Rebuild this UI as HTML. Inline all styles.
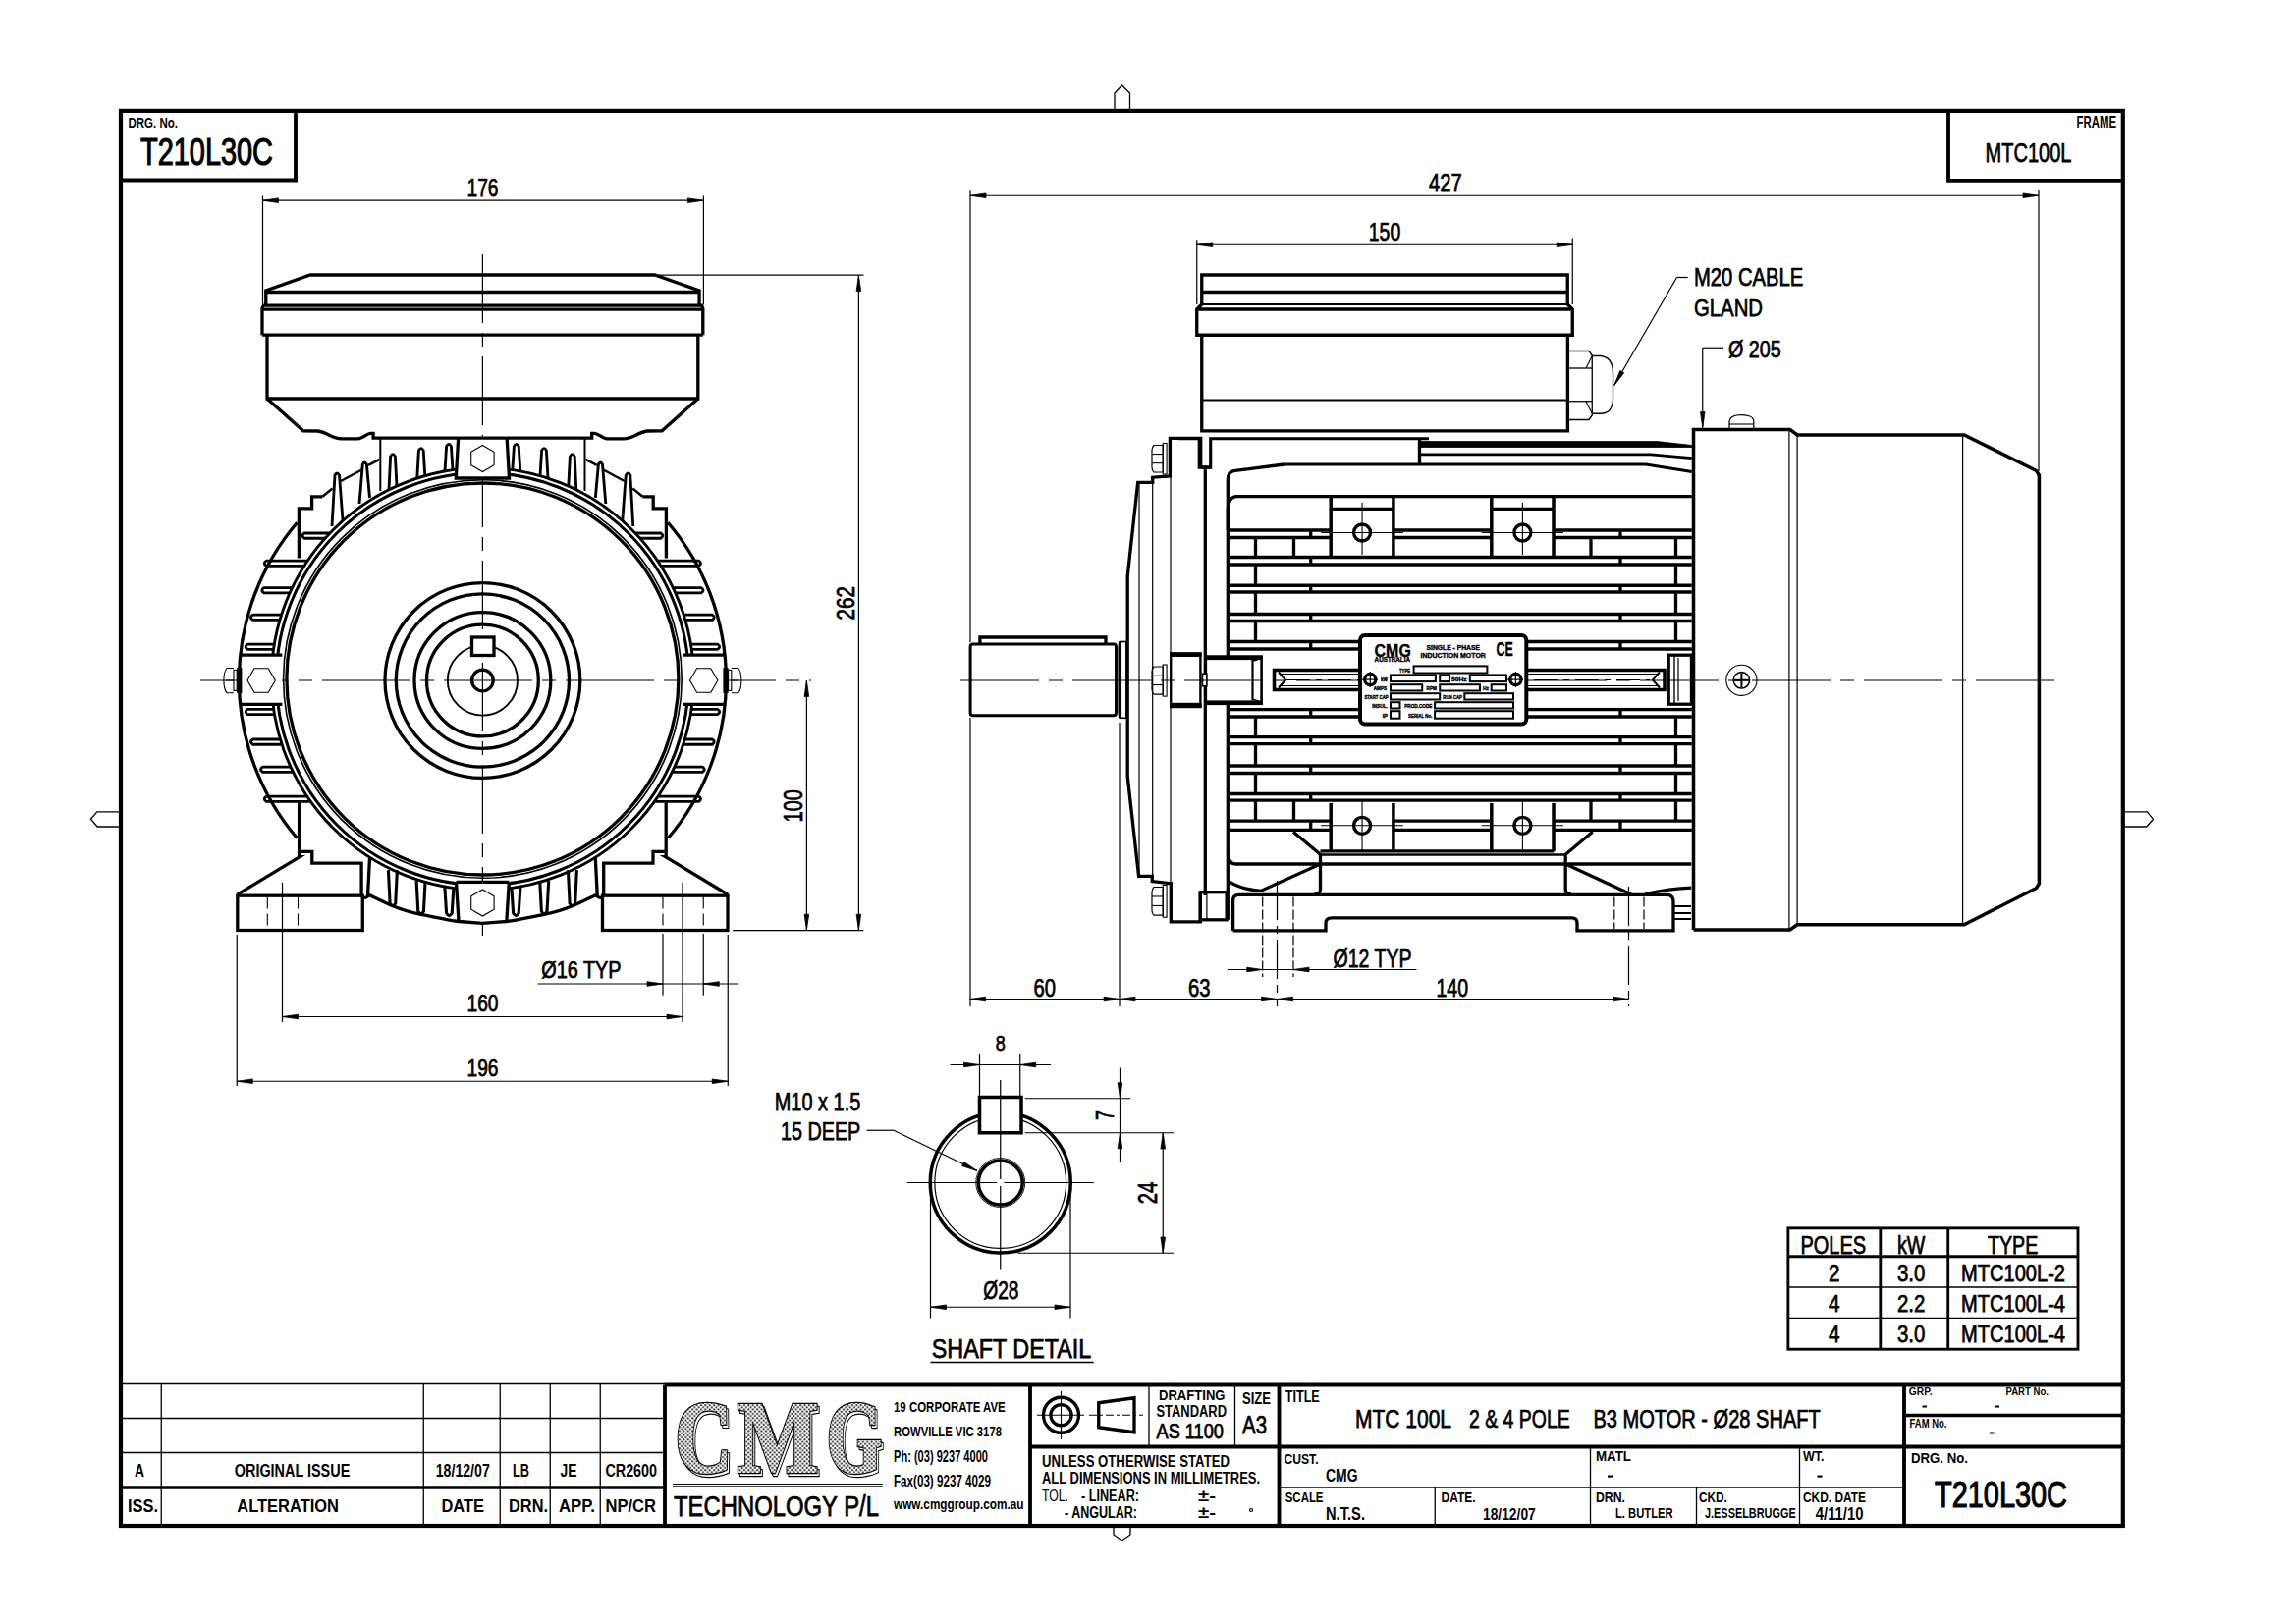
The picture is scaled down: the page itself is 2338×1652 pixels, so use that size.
<!DOCTYPE html>
<html><head><meta charset="utf-8"><style>
html,body{margin:0;padding:0;background:#fff;}
svg{display:block;}
svg text{font-family:"Liberation Sans",sans-serif;}
</style></head><body>
<svg width="2338" height="1652" viewBox="0 0 2338 1652">
<defs><pattern id="dots" x="0" y="0" width="4.4" height="4.4" patternUnits="userSpaceOnUse"><rect width="4.4" height="4.4" fill="#fff"/><circle cx="1.1" cy="1.1" r="1.05" fill="#333"/><circle cx="3.3" cy="3.3" r="1.05" fill="#333"/></pattern><clipPath id="ringclip"><rect x="0" y="0" width="2338" height="667.2"/><rect x="0" y="717.3" width="2338" height="1000"/></clipPath></defs>
<g fill="none" stroke="#000" stroke-linecap="butt" stroke-linejoin="miter">
<g id="frame">
<rect x="123" y="112.9" width="2038.8" height="1441.1" stroke-width="4.18"/>
<path d="M1135 111 L1135 95 L1142.5 87 L1150.5 95 L1150.5 111" stroke-width="1.3"/>
<path d="M1134 1556 L1134 1563 L1142.5 1569 L1151 1563 L1151 1556" stroke-width="1.3"/>
<path d="M121 826.8 L98.8 826.8 L92.4 834.3 L99.2 842 L121 842" stroke-width="1.3"/>
<path d="M2164 826.8 L2186.4 826.8 L2192.5 834.4 L2185.7 842 L2164 842" stroke-width="1.3"/>
<path d="M123 183.5 L301 183.5 L301 112.9" stroke-width="3.85"/>
<text x="130.5" y="130" font-size="15.09" textLength="50.5" lengthAdjust="spacingAndGlyphs" font-weight="bold" fill="#000" stroke="none">DRG. No.</text>
<text x="143" y="168" font-size="38.41" textLength="135" lengthAdjust="spacingAndGlyphs" font-weight="normal" stroke="#000" stroke-width="1.2" fill="#000">T210L30C</text>
<path d="M1984 112.9 L1984 183.8 L2161.8 183.8" stroke-width="3.85"/>
<text x="2114.5" y="130" font-size="16.46" textLength="40.5" lengthAdjust="spacingAndGlyphs" font-weight="bold" fill="#000" stroke="none">FRAME</text>
<text x="2021.5" y="164.5" font-size="26.75" textLength="88" lengthAdjust="spacingAndGlyphs" font-weight="normal" stroke="#000" stroke-width="0.75" fill="#000">MTC100L</text>
</g>
<g id="title">
<line x1="123" y1="1409.5" x2="677" y2="1409.5" stroke-width="1.3"/>
<line x1="123" y1="1444.5" x2="677" y2="1444.5" stroke-width="1.3"/>
<line x1="123" y1="1479.5" x2="677" y2="1479.5" stroke-width="1.3"/>
<line x1="123" y1="1515" x2="677" y2="1515" stroke-width="3.52"/>
<line x1="164.25" y1="1409.5" x2="164.25" y2="1554" stroke-width="1.3"/>
<line x1="431.25" y1="1409.5" x2="431.25" y2="1554" stroke-width="1.3"/>
<line x1="509.25" y1="1409.5" x2="509.25" y2="1554" stroke-width="1.3"/>
<line x1="560.25" y1="1409.5" x2="560.25" y2="1554" stroke-width="1.3"/>
<line x1="611.25" y1="1409.5" x2="611.25" y2="1554" stroke-width="1.3"/>
<line x1="677" y1="1410.5" x2="677" y2="1554" stroke-width="3.85"/>
<line x1="677" y1="1410.5" x2="2161.8" y2="1410.5" stroke-width="3.85"/>
<line x1="1049" y1="1410.5" x2="1049" y2="1554" stroke-width="3.85"/>
<line x1="1049" y1="1473.5" x2="2161.8" y2="1473.5" stroke-width="3.85"/>
<line x1="1170" y1="1410.5" x2="1170" y2="1473.5" stroke-width="1.3"/>
<line x1="1257.5" y1="1410.5" x2="1257.5" y2="1473.5" stroke-width="1.3"/>
<line x1="1302.5" y1="1410.5" x2="1302.5" y2="1554" stroke-width="3.85"/>
<line x1="1939" y1="1410.5" x2="1939" y2="1554" stroke-width="3.85"/>
<line x1="1939" y1="1441.5" x2="2161.8" y2="1441.5" stroke-width="3.63"/>
<line x1="1302.5" y1="1515" x2="1939" y2="1515" stroke-width="1.3"/>
<line x1="1619.5" y1="1473.5" x2="1619.5" y2="1554" stroke-width="1.3"/>
<line x1="1461.25" y1="1515" x2="1461.25" y2="1554" stroke-width="1.3"/>
<line x1="1727.5" y1="1515" x2="1727.5" y2="1554" stroke-width="1.3"/>
<line x1="1832.5" y1="1473.5" x2="1832.5" y2="1554" stroke-width="1.3"/>
<text x="137" y="1504" font-size="19.2" textLength="10" lengthAdjust="spacingAndGlyphs" font-weight="bold" fill="#000" stroke="none">A</text>
<text x="238.75" y="1504" font-size="19.2" textLength="117.5" lengthAdjust="spacingAndGlyphs" font-weight="bold" fill="#000" stroke="none">ORIGINAL ISSUE</text>
<text x="443.75" y="1504" font-size="19.2" textLength="55" lengthAdjust="spacingAndGlyphs" font-weight="bold" fill="#000" stroke="none">18/12/07</text>
<text x="522" y="1504" font-size="19.2" textLength="17" lengthAdjust="spacingAndGlyphs" font-weight="bold" fill="#000" stroke="none">LB</text>
<text x="570.5" y="1504" font-size="19.2" textLength="17" lengthAdjust="spacingAndGlyphs" font-weight="bold" fill="#000" stroke="none">JE</text>
<text x="616.5" y="1504" font-size="19.2" textLength="52.5" lengthAdjust="spacingAndGlyphs" font-weight="bold" fill="#000" stroke="none">CR2600</text>
<text x="130" y="1540" font-size="19.2" textLength="31" lengthAdjust="spacingAndGlyphs" font-weight="bold" fill="#000" stroke="none">ISS.</text>
<text x="241.25" y="1540" font-size="19.2" textLength="103.75" lengthAdjust="spacingAndGlyphs" font-weight="bold" fill="#000" stroke="none">ALTERATION</text>
<text x="449.5" y="1540" font-size="19.2" textLength="43.5" lengthAdjust="spacingAndGlyphs" font-weight="bold" fill="#000" stroke="none">DATE</text>
<text x="518" y="1540" font-size="19.2" textLength="40" lengthAdjust="spacingAndGlyphs" font-weight="bold" fill="#000" stroke="none">DRN.</text>
<text x="569" y="1540" font-size="19.2" textLength="37" lengthAdjust="spacingAndGlyphs" font-weight="bold" fill="#000" stroke="none">APP.</text>
<text x="616.5" y="1540" font-size="19.2" textLength="51.5" lengthAdjust="spacingAndGlyphs" font-weight="bold" fill="#000" stroke="none">NP/CR</text>
<text x="686" y="1543.75" font-size="28.81" textLength="209" lengthAdjust="spacingAndGlyphs" font-weight="normal" stroke="#000" stroke-width="0.75" fill="#000">TECHNOLOGY P/L</text>
<line x1="685" y1="1511.5" x2="898.75" y2="1511.5" stroke-width="1.2"/>
<line x1="685" y1="1513.8" x2="898.75" y2="1513.8" stroke-width="1.2"/>
<text x="910" y="1437.5" font-size="15.09" textLength="113.75" lengthAdjust="spacingAndGlyphs" font-weight="bold" fill="#000" stroke="none">19 CORPORATE AVE</text>
<text x="910" y="1462.5" font-size="15.09" textLength="110" lengthAdjust="spacingAndGlyphs" font-weight="bold" fill="#000" stroke="none">ROWVILLE VIC 3178</text>
<text x="910" y="1489" font-size="16.46" textLength="96" lengthAdjust="spacingAndGlyphs" font-weight="bold" fill="#000" stroke="none">Ph: (03) 9237 4000</text>
<text x="910" y="1514" font-size="16.46" textLength="99" lengthAdjust="spacingAndGlyphs" font-weight="bold" fill="#000" stroke="none">Fax(03) 9237 4029</text>
<text x="910" y="1537" font-size="13.72" textLength="132.5" lengthAdjust="spacingAndGlyphs" font-weight="bold" fill="#000" stroke="none">www.cmggroup.com.au</text>
<text x="689.5" y="1501.5" style="font-family:'Liberation Serif',serif" font-weight="bold" font-size="104" textLength="58" lengthAdjust="spacingAndGlyphs" fill="#000" stroke="#000" stroke-width="4.6">C</text>
<text x="689.5" y="1501.5" style="font-family:'Liberation Serif',serif" font-weight="bold" font-size="104" textLength="58" lengthAdjust="spacingAndGlyphs" fill="#fff" stroke="#fff" stroke-width="2.2">C</text>
<text x="687.5" y="1499" style="font-family:'Liberation Serif',serif" font-weight="bold" font-size="104" textLength="58" lengthAdjust="spacingAndGlyphs" fill="#000" stroke="#000" stroke-width="4.6">C</text>
<text x="687.5" y="1499" style="font-family:'Liberation Serif',serif" font-weight="bold" font-size="104" textLength="58" lengthAdjust="spacingAndGlyphs" fill="url(#dots)" stroke="url(#dots)" stroke-width="2.2">C</text>
<text x="753.2" y="1501.5" style="font-family:'Liberation Serif',serif" font-weight="bold" font-size="104" textLength="82" lengthAdjust="spacingAndGlyphs" fill="#000" stroke="#000" stroke-width="4.6">M</text>
<text x="753.2" y="1501.5" style="font-family:'Liberation Serif',serif" font-weight="bold" font-size="104" textLength="82" lengthAdjust="spacingAndGlyphs" fill="#fff" stroke="#fff" stroke-width="2.2">M</text>
<text x="751.2" y="1499" style="font-family:'Liberation Serif',serif" font-weight="bold" font-size="104" textLength="82" lengthAdjust="spacingAndGlyphs" fill="#000" stroke="#000" stroke-width="4.6">M</text>
<text x="751.2" y="1499" style="font-family:'Liberation Serif',serif" font-weight="bold" font-size="104" textLength="82" lengthAdjust="spacingAndGlyphs" fill="url(#dots)" stroke="url(#dots)" stroke-width="2.2">M</text>
<text x="843.8" y="1501.5" style="font-family:'Liberation Serif',serif" font-weight="bold" font-size="104" textLength="56.3" lengthAdjust="spacingAndGlyphs" fill="#000" stroke="#000" stroke-width="4.6">G</text>
<text x="843.8" y="1501.5" style="font-family:'Liberation Serif',serif" font-weight="bold" font-size="104" textLength="56.3" lengthAdjust="spacingAndGlyphs" fill="#fff" stroke="#fff" stroke-width="2.2">G</text>
<text x="841.8" y="1499" style="font-family:'Liberation Serif',serif" font-weight="bold" font-size="104" textLength="56.3" lengthAdjust="spacingAndGlyphs" fill="#000" stroke="#000" stroke-width="4.6">G</text>
<text x="841.8" y="1499" style="font-family:'Liberation Serif',serif" font-weight="bold" font-size="104" textLength="56.3" lengthAdjust="spacingAndGlyphs" fill="url(#dots)" stroke="url(#dots)" stroke-width="2.2">G</text>
<circle cx="1080.5" cy="1441.25" r="18" stroke-width="3.3"/>
<circle cx="1080.5" cy="1441.25" r="10.6" stroke-width="3.3"/>
<line x1="1056" y1="1441.25" x2="1104" y2="1441.25" stroke-width="1.1"/>
<line x1="1080.5" y1="1417" x2="1080.5" y2="1466" stroke-width="1.1"/>
<path d="M1118.75 1428.75 L1155 1423.75 L1155 1458.75 L1118.75 1453.75 Z" stroke-width="3.3"/>
<line x1="1109" y1="1441.25" x2="1164" y2="1441.25" stroke-width="1.1" stroke-dasharray="8 3 3 3"/>
<text x="1180" y="1426" font-size="15.09" textLength="67.5" lengthAdjust="spacingAndGlyphs" font-weight="bold" fill="#000" stroke="none">DRAFTING</text>
<text x="1177.5" y="1442.5" font-size="15.78" textLength="71.5" lengthAdjust="spacingAndGlyphs" font-weight="bold" fill="#000" stroke="none">STANDARD</text>
<text x="1177.5" y="1465" font-size="21.95" textLength="68.5" lengthAdjust="spacingAndGlyphs" font-weight="normal" stroke="#000" stroke-width="0.75" fill="#000">AS 1100</text>
<text x="1265" y="1430" font-size="16.46" textLength="29" lengthAdjust="spacingAndGlyphs" font-weight="bold" fill="#000" stroke="none">SIZE</text>
<text x="1265" y="1460" font-size="26.06" textLength="25" lengthAdjust="spacingAndGlyphs" font-weight="normal" stroke="#000" stroke-width="0.75" fill="#000">A3</text>
<text x="1061" y="1494" font-size="15.78" textLength="191" lengthAdjust="spacingAndGlyphs" font-weight="bold" fill="#000" stroke="none">UNLESS OTHERWISE STATED</text>
<text x="1061" y="1511" font-size="15.78" textLength="222" lengthAdjust="spacingAndGlyphs" font-weight="bold" fill="#000" stroke="none">ALL DIMENSIONS IN MILLIMETRES.</text>
<text x="1061" y="1529" font-size="15.78" textLength="27" lengthAdjust="spacingAndGlyphs" font-weight="normal" fill="#000" stroke="none">TOL.</text>
<text x="1101" y="1529" font-size="15.78" textLength="59" lengthAdjust="spacingAndGlyphs" font-weight="bold" fill="#000" stroke="none">- LINEAR:</text>
<text x="1084" y="1546" font-size="15.78" textLength="74" lengthAdjust="spacingAndGlyphs" font-weight="bold" fill="#000" stroke="none">- ANGULAR:</text>
<text x="1220" y="1529" font-size="16.46" textLength="18" lengthAdjust="spacingAndGlyphs" font-weight="bold" fill="#000" stroke="none">±-</text>
<text x="1220" y="1546" font-size="16.46" textLength="18" lengthAdjust="spacingAndGlyphs" font-weight="bold" fill="#000" stroke="none">±-</text>
<circle cx="1274" cy="1538" r="1.5" stroke-width="1.2"/>
<text x="1308.75" y="1427.5" font-size="17.15" textLength="35" lengthAdjust="spacingAndGlyphs" font-weight="bold" fill="#000" stroke="none">TITLE</text>
<text x="1380" y="1453.75" font-size="26.06" textLength="98" lengthAdjust="spacingAndGlyphs" font-weight="normal" stroke="#000" stroke-width="0.75" fill="#000">MTC 100L</text>
<text x="1496" y="1453.75" font-size="26.06" textLength="102.75" lengthAdjust="spacingAndGlyphs" font-weight="normal" stroke="#000" stroke-width="0.75" fill="#000">2 &amp; 4 POLE</text>
<text x="1622.5" y="1453.75" font-size="26.06" textLength="231.25" lengthAdjust="spacingAndGlyphs" font-weight="normal" stroke="#000" stroke-width="0.75" fill="#000">B3 MOTOR - Ø28 SHAFT</text>
<text x="1307.5" y="1491" font-size="15.09" textLength="35" lengthAdjust="spacingAndGlyphs" font-weight="bold" fill="#000" stroke="none">CUST.</text>
<text x="1350" y="1509" font-size="17.83" textLength="32.5" lengthAdjust="spacingAndGlyphs" font-weight="bold" fill="#000" stroke="none">CMG</text>
<text x="1308.75" y="1530" font-size="15.09" textLength="38.75" lengthAdjust="spacingAndGlyphs" font-weight="bold" fill="#000" stroke="none">SCALE</text>
<text x="1350" y="1547.5" font-size="18.52" textLength="40" lengthAdjust="spacingAndGlyphs" font-weight="bold" fill="#000" stroke="none">N.T.S.</text>
<text x="1467.5" y="1530" font-size="15.09" textLength="35" lengthAdjust="spacingAndGlyphs" font-weight="bold" fill="#000" stroke="none">DATE.</text>
<text x="1510" y="1547.5" font-size="17.15" textLength="53.75" lengthAdjust="spacingAndGlyphs" font-weight="bold" fill="#000" stroke="none">18/12/07</text>
<text x="1625" y="1487.5" font-size="13.72" textLength="36" lengthAdjust="spacingAndGlyphs" font-weight="bold" fill="#000" stroke="none">MATL</text>
<rect x="1637" y="1502.5" width="5" height="2.2" stroke-width="0" fill="#000"/>
<text x="1836" y="1487.5" font-size="13.72" textLength="21.5" lengthAdjust="spacingAndGlyphs" font-weight="bold" fill="#000" stroke="none">WT.</text>
<rect x="1850.5" y="1502.5" width="5" height="2.2" stroke-width="0" fill="#000"/>
<text x="1625" y="1530" font-size="15.09" textLength="30" lengthAdjust="spacingAndGlyphs" font-weight="bold" fill="#000" stroke="none">DRN.</text>
<text x="1645" y="1546" font-size="15.09" textLength="58.75" lengthAdjust="spacingAndGlyphs" font-weight="bold" fill="#000" stroke="none">L. BUTLER</text>
<text x="1730" y="1530" font-size="15.09" textLength="28.75" lengthAdjust="spacingAndGlyphs" font-weight="bold" fill="#000" stroke="none">CKD.</text>
<text x="1736" y="1546" font-size="15.09" textLength="92.75" lengthAdjust="spacingAndGlyphs" font-weight="bold" fill="#000" stroke="none">J.ESSELBRUGGE</text>
<text x="1836" y="1530" font-size="15.09" textLength="64" lengthAdjust="spacingAndGlyphs" font-weight="bold" fill="#000" stroke="none">CKD. DATE</text>
<text x="1848.75" y="1547.5" font-size="18.52" textLength="48.75" lengthAdjust="spacingAndGlyphs" font-weight="bold" fill="#000" stroke="none">4/11/10</text>
<text x="1943.75" y="1421" font-size="11.66" textLength="23.75" lengthAdjust="spacingAndGlyphs" font-weight="bold" fill="#000" stroke="none">GRP.</text>
<text x="2042.5" y="1421" font-size="11.66" textLength="43.5" lengthAdjust="spacingAndGlyphs" font-weight="bold" fill="#000" stroke="none">PART No.</text>
<rect x="1957.5" y="1431.5" width="4.5" height="2" stroke-width="0" fill="#000"/>
<rect x="2031.5" y="1431.5" width="4.5" height="2" stroke-width="0" fill="#000"/>
<text x="1944.5" y="1454" font-size="12.35" textLength="38" lengthAdjust="spacingAndGlyphs" font-weight="bold" fill="#000" stroke="none">FAM No.</text>
<rect x="2026" y="1458.5" width="4.5" height="2" stroke-width="0" fill="#000"/>
<text x="1946" y="1490" font-size="15.09" textLength="58" lengthAdjust="spacingAndGlyphs" font-weight="bold" fill="#000" stroke="none">DRG. No.</text>
<text x="1970" y="1535" font-size="37.72" textLength="135" lengthAdjust="spacingAndGlyphs" font-weight="normal" stroke="#000" stroke-width="1.2" fill="#000">T210L30C</text>
</g>
<g id="poles">
<rect x="1820.85" y="1250.85" width="295.15" height="123.35" stroke-width="2.86"/>
<line x1="1914.8" y1="1250.85" x2="1914.8" y2="1374.2" stroke-width="2.86"/>
<line x1="1983.7" y1="1250.85" x2="1983.7" y2="1374.2" stroke-width="2.86"/>
<line x1="1820.85" y1="1279.7" x2="2116" y2="1279.7" stroke-width="2.86"/>
<line x1="1820.85" y1="1311" x2="2116" y2="1311" stroke-width="1.3"/>
<line x1="1820.85" y1="1342.4" x2="2116" y2="1342.4" stroke-width="1.3"/>
<text x="1833.4" y="1277.2" font-size="25.38" textLength="66.8" lengthAdjust="spacingAndGlyphs" font-weight="normal" stroke="#000" stroke-width="0.75" fill="#000">POLES</text>
<text x="1932" y="1277.2" font-size="25.38" textLength="28.4" lengthAdjust="spacingAndGlyphs" font-weight="normal" stroke="#000" stroke-width="0.75" fill="#000">kW</text>
<text x="2024" y="1277.2" font-size="25.38" textLength="51.3" lengthAdjust="spacingAndGlyphs" font-weight="normal" stroke="#000" stroke-width="0.75" fill="#000">TYPE</text>
<text x="1862" y="1305" font-size="24.69" textLength="11.5" lengthAdjust="spacingAndGlyphs" font-weight="normal" stroke="#000" stroke-width="0.75" fill="#000">2</text>
<text x="1932" y="1305" font-size="24.69" textLength="28.4" lengthAdjust="spacingAndGlyphs" font-weight="normal" stroke="#000" stroke-width="0.75" fill="#000">3.0</text>
<text x="1997" y="1305" font-size="24.69" textLength="106" lengthAdjust="spacingAndGlyphs" font-weight="normal" stroke="#000" stroke-width="0.75" fill="#000">MTC100L-2</text>
<text x="1862" y="1336" font-size="24.69" textLength="11.5" lengthAdjust="spacingAndGlyphs" font-weight="normal" stroke="#000" stroke-width="0.75" fill="#000">4</text>
<text x="1932" y="1336" font-size="24.69" textLength="28.4" lengthAdjust="spacingAndGlyphs" font-weight="normal" stroke="#000" stroke-width="0.75" fill="#000">2.2</text>
<text x="1997" y="1336" font-size="24.69" textLength="106" lengthAdjust="spacingAndGlyphs" font-weight="normal" stroke="#000" stroke-width="0.75" fill="#000">MTC100L-4</text>
<text x="1862" y="1367" font-size="24.69" textLength="11.5" lengthAdjust="spacingAndGlyphs" font-weight="normal" stroke="#000" stroke-width="0.75" fill="#000">4</text>
<text x="1932" y="1367" font-size="24.69" textLength="28.4" lengthAdjust="spacingAndGlyphs" font-weight="normal" stroke="#000" stroke-width="0.75" fill="#000">3.0</text>
<text x="1997" y="1367" font-size="24.69" textLength="106" lengthAdjust="spacingAndGlyphs" font-weight="normal" stroke="#000" stroke-width="0.75" fill="#000">MTC100L-4</text>
</g>
<g id="dims">
<line x1="267.5" y1="199.5" x2="267.5" y2="310.5" stroke-width="1.2"/>
<line x1="716.4" y1="199.5" x2="716.4" y2="310.5" stroke-width="1.2"/>
<line x1="267.5" y1="204.2" x2="716.4" y2="204.2" stroke-width="1.2"/>
<path d="M267.5 204.2 L283.5 201.9 L283.5 206.5 Z" fill="#000" stroke-width="0.8"/>
<path d="M716.4 204.2 L700.4 206.5 L700.4 201.9 Z" fill="#000" stroke-width="0.8"/>
<text x="475.5" y="200" font-size="26.06" textLength="32" lengthAdjust="spacingAndGlyphs" font-weight="normal" stroke="#000" stroke-width="0.75" fill="#000">176</text>
<line x1="667" y1="280.2" x2="879.4" y2="280.2" stroke-width="1.2"/>
<line x1="746.2" y1="947.7" x2="879.3" y2="947.7" stroke-width="1.2"/>
<line x1="874.4" y1="280.2" x2="874.4" y2="947.7" stroke-width="1.2"/>
<path d="M874.4 280.6 L876.7 296.6 L872.1 296.6 Z" fill="#000" stroke-width="0.8"/>
<path d="M874.4 947.2 L872.1 931.2 L876.7 931.2 Z" fill="#000" stroke-width="0.8"/>
<text transform="translate(869.5 631.5) rotate(-90)" x="0" y="0" font-size="25.38" textLength="34.5" lengthAdjust="spacingAndGlyphs" font-weight="normal" fill="#000" stroke="#000" stroke-width="0.75">262</text>
<line x1="821.4" y1="693.2" x2="821.4" y2="947.7" stroke-width="1.2"/>
<path d="M821.4 693.4 L823.7 709.4 L819.1 709.4 Z" fill="#000" stroke-width="0.8"/>
<path d="M821.4 947.2 L819.1 931.2 L823.7 931.2 Z" fill="#000" stroke-width="0.8"/>
<text transform="translate(816.5 837.4) rotate(-90)" x="0" y="0" font-size="27.16" textLength="33.3" lengthAdjust="spacingAndGlyphs" font-weight="normal" fill="#000" stroke="#000" stroke-width="0.75">100</text>
<line x1="287.5" y1="898.75" x2="287.5" y2="1041" stroke-width="1.2"/>
<line x1="695" y1="898.75" x2="695" y2="1041" stroke-width="1.2"/>
<line x1="287.5" y1="1035.5" x2="695" y2="1035.5" stroke-width="1.2"/>
<path d="M287.5 1035.5 L303.5 1033.2 L303.5 1037.8 Z" fill="#000" stroke-width="0.8"/>
<path d="M695 1035.5 L679 1037.8 L679 1033.2 Z" fill="#000" stroke-width="0.8"/>
<text x="475.5" y="1030" font-size="24.01" textLength="32" lengthAdjust="spacingAndGlyphs" font-weight="normal" stroke="#000" stroke-width="0.75" fill="#000">160</text>
<line x1="241.25" y1="952" x2="241.25" y2="1106" stroke-width="1.2"/>
<line x1="741.25" y1="952" x2="741.25" y2="1106" stroke-width="1.2"/>
<line x1="241.25" y1="1101.25" x2="741.25" y2="1101.25" stroke-width="1.2"/>
<path d="M241.25 1101.25 L257.25 1098.95 L257.25 1103.55 Z" fill="#000" stroke-width="0.8"/>
<path d="M741.25 1101.25 L725.25 1103.55 L725.25 1098.95 Z" fill="#000" stroke-width="0.8"/>
<text x="475.5" y="1096.25" font-size="24.01" textLength="32" lengthAdjust="spacingAndGlyphs" font-weight="normal" stroke="#000" stroke-width="0.75" fill="#000">196</text>
<line x1="675" y1="951" x2="675" y2="1013.75" stroke-width="1.2"/>
<line x1="716.25" y1="951" x2="716.25" y2="1013.75" stroke-width="1.2"/>
<line x1="547.5" y1="1002" x2="751.25" y2="1002" stroke-width="1.2"/>
<path d="M675 1002 L659 1004.3 L659 999.7 Z" fill="#000" stroke-width="0.8"/>
<path d="M716.25 1002 L732.25 999.7 L732.25 1004.3 Z" fill="#000" stroke-width="0.8"/>
<text x="551.25" y="996.25" font-size="24.01" textLength="81.25" lengthAdjust="spacingAndGlyphs" font-weight="normal" stroke="#000" stroke-width="0.75" fill="#000">Ø16 TYP</text>
<line x1="988" y1="194.25" x2="988" y2="654" stroke-width="1.2"/>
<line x1="988" y1="731" x2="988" y2="1025" stroke-width="1.2"/>
<line x1="2076" y1="194" x2="2076" y2="480" stroke-width="1.2"/>
<line x1="988" y1="199.25" x2="2076" y2="199.25" stroke-width="1.2"/>
<path d="M988 199.25 L1004 196.95 L1004 201.55 Z" fill="#000" stroke-width="0.8"/>
<path d="M2076 199.25 L2060 201.55 L2060 196.95 Z" fill="#000" stroke-width="0.8"/>
<text x="1455" y="195" font-size="25.72" textLength="33.75" lengthAdjust="spacingAndGlyphs" font-weight="normal" stroke="#000" stroke-width="0.75" fill="#000">427</text>
<line x1="1218.75" y1="244.25" x2="1218.75" y2="310" stroke-width="1.2"/>
<line x1="1601.25" y1="242.5" x2="1601.25" y2="310" stroke-width="1.2"/>
<line x1="1218.75" y1="249.25" x2="1601.25" y2="249.25" stroke-width="1.2"/>
<path d="M1218.75 249.25 L1234.75 246.95 L1234.75 251.55 Z" fill="#000" stroke-width="0.8"/>
<path d="M1601.25 249.25 L1585.25 251.55 L1585.25 246.95 Z" fill="#000" stroke-width="0.8"/>
<text x="1393.75" y="245" font-size="25.72" textLength="32.5" lengthAdjust="spacingAndGlyphs" font-weight="normal" stroke="#000" stroke-width="0.75" fill="#000">150</text>
<line x1="1718.75" y1="282.5" x2="1707.5" y2="282.5" stroke-width="1.2"/>
<line x1="1707.5" y1="282.5" x2="1643.75" y2="392.5" stroke-width="1.2"/>
<path d="M1643.75 392.5 L1649.78 377.5 L1653.76 379.81 Z" fill="#000" stroke-width="0.8"/>
<text x="1725" y="291.25" font-size="25.72" textLength="111.25" lengthAdjust="spacingAndGlyphs" font-weight="normal" stroke="#000" stroke-width="0.75" fill="#000">M20 CABLE</text>
<text x="1725" y="321.75" font-size="24.69" textLength="70" lengthAdjust="spacingAndGlyphs" font-weight="normal" stroke="#000" stroke-width="0.75" fill="#000">GLAND</text>
<line x1="1755" y1="354.25" x2="1733.75" y2="354.25" stroke-width="1.2"/>
<line x1="1733.75" y1="354.25" x2="1733.75" y2="435" stroke-width="1.2"/>
<path d="M1733.75 435.5 L1731.45 419.5 L1736.05 419.5 Z" fill="#000" stroke-width="0.8"/>
<text x="1760" y="364.25" font-size="24.69" textLength="53.75" lengthAdjust="spacingAndGlyphs" font-weight="normal" stroke="#000" stroke-width="0.75" fill="#000">Ø 205</text>
<line x1="1140" y1="735.9" x2="1140" y2="1025" stroke-width="1.2"/>
<line x1="1300.5" y1="897" x2="1300.5" y2="1025" stroke-width="1.2" stroke-dasharray="40 6 8 6"/>
<line x1="1658.5" y1="903" x2="1658.5" y2="1025" stroke-width="1.2" stroke-dasharray="40 6 8 6"/>
<line x1="987.5" y1="1017.5" x2="1658.5" y2="1017.5" stroke-width="1.2"/>
<path d="M987.5 1017.5 L1003.5 1015.2 L1003.5 1019.8 Z" fill="#000" stroke-width="0.8"/>
<path d="M1140 1017.5 L1124 1019.8 L1124 1015.2 Z" fill="#000" stroke-width="0.8"/>
<path d="M1140 1017.5 L1156 1015.2 L1156 1019.8 Z" fill="#000" stroke-width="0.8"/>
<path d="M1300.5 1017.5 L1284.5 1019.8 L1284.5 1015.2 Z" fill="#000" stroke-width="0.8"/>
<path d="M1300.5 1017.5 L1316.5 1015.2 L1316.5 1019.8 Z" fill="#000" stroke-width="0.8"/>
<path d="M1658.5 1017.5 L1642.5 1019.8 L1642.5 1015.2 Z" fill="#000" stroke-width="0.8"/>
<text x="1052.5" y="1015" font-size="26.06" textLength="22.5" lengthAdjust="spacingAndGlyphs" font-weight="normal" stroke="#000" stroke-width="0.75" fill="#000">60</text>
<text x="1210" y="1015" font-size="26.06" textLength="22.5" lengthAdjust="spacingAndGlyphs" font-weight="normal" stroke="#000" stroke-width="0.75" fill="#000">63</text>
<text x="1462.5" y="1015" font-size="26.06" textLength="32.5" lengthAdjust="spacingAndGlyphs" font-weight="normal" stroke="#000" stroke-width="0.75" fill="#000">140</text>
<line x1="1250" y1="987.5" x2="1442.5" y2="987.5" stroke-width="1.2"/>
<path d="M1285.7 987.5 L1269.7 989.8 L1269.7 985.2 Z" fill="#000" stroke-width="0.8"/>
<path d="M1317 987.5 L1333 985.2 L1333 989.8 Z" fill="#000" stroke-width="0.8"/>
<line x1="1285.7" y1="913.5" x2="1285.7" y2="995" stroke-width="1.2" stroke-dasharray="10 3"/>
<line x1="1317" y1="913.5" x2="1317" y2="995" stroke-width="1.2" stroke-dasharray="10 3"/>
<line x1="1643.8" y1="913.5" x2="1643.8" y2="946" stroke-width="1.2" stroke-dasharray="10 3"/>
<line x1="1674" y1="913.5" x2="1674" y2="946" stroke-width="1.2" stroke-dasharray="10 3"/>
<text x="1357.5" y="985" font-size="26.06" textLength="80" lengthAdjust="spacingAndGlyphs" font-weight="normal" stroke="#000" stroke-width="0.75" fill="#000">Ø12 TYP</text>
</g>
<g id="shaft">
<circle cx="1018.75" cy="1204.5" r="71.5" stroke-width="3.52"/>
<circle cx="1018.75" cy="1204.5" r="66.9" stroke-width="1.2"/>
<rect x="997.5" y="1117.5" width="42.5" height="36.25" fill="#fff" stroke="none"/>
<rect x="997.5" y="1117.5" width="42.5" height="36.25" stroke-width="3.52"/>
<circle cx="1018.75" cy="1204.5" r="22.5" stroke-width="3.52"/>
<circle cx="1018.75" cy="1204.5" r="25" stroke-width="0.9"/>
<line x1="1018.75" y1="1100" x2="1018.75" y2="1201" stroke-width="1.2"/>
<line x1="1018.75" y1="1208" x2="1018.75" y2="1292.5" stroke-width="1.2"/>
<line x1="923.75" y1="1204.5" x2="1015" y2="1204.5" stroke-width="1.2"/>
<line x1="1022.5" y1="1204.5" x2="1113.75" y2="1204.5" stroke-width="1.2"/>
<line x1="997.5" y1="1073.75" x2="997.5" y2="1117" stroke-width="1.2"/>
<line x1="1038.75" y1="1073.75" x2="1038.75" y2="1117" stroke-width="1.2"/>
<line x1="967.5" y1="1084.5" x2="1070" y2="1084.5" stroke-width="1.2"/>
<path d="M997.5 1084.5 L981.5 1086.8 L981.5 1082.2 Z" fill="#000" stroke-width="0.8"/>
<path d="M1038.75 1084.5 L1054.75 1082.2 L1054.75 1086.8 Z" fill="#000" stroke-width="0.8"/>
<text x="1013.75" y="1070" font-size="21.95" textLength="10" lengthAdjust="spacingAndGlyphs" font-weight="normal" stroke="#000" stroke-width="0.75" fill="#000">8</text>
<line x1="1043.75" y1="1118.75" x2="1151.25" y2="1118.75" stroke-width="1.2"/>
<line x1="1043.75" y1="1153.75" x2="1195" y2="1153.75" stroke-width="1.2"/>
<line x1="1140.5" y1="1087.5" x2="1140.5" y2="1183.75" stroke-width="1.2"/>
<path d="M1140.5 1118.75 L1138.2 1102.75 L1142.8 1102.75 Z" fill="#000" stroke-width="0.8"/>
<path d="M1140.5 1153.75 L1142.8 1169.75 L1138.2 1169.75 Z" fill="#000" stroke-width="0.8"/>
<text transform="translate(1133.75 1141) rotate(-90)" x="0" y="0" font-size="26.06" textLength="10" lengthAdjust="spacingAndGlyphs" font-weight="normal" fill="#000" stroke="#000" stroke-width="0.75">7</text>
<line x1="1036.25" y1="1276.25" x2="1195" y2="1276.25" stroke-width="1.2"/>
<line x1="1184.25" y1="1153.75" x2="1184.25" y2="1276.25" stroke-width="1.2"/>
<path d="M1184.25 1154 L1186.55 1170 L1181.95 1170 Z" fill="#000" stroke-width="0.8"/>
<path d="M1184.25 1276 L1181.95 1260 L1186.55 1260 Z" fill="#000" stroke-width="0.8"/>
<text transform="translate(1177.5 1226.25) rotate(-90)" x="0" y="0" font-size="26.75" textLength="22.5" lengthAdjust="spacingAndGlyphs" font-weight="normal" fill="#000" stroke="#000" stroke-width="0.75">24</text>
<line x1="947.5" y1="1215" x2="947.5" y2="1342.5" stroke-width="1.2"/>
<line x1="1090" y1="1215" x2="1090" y2="1342.5" stroke-width="1.2"/>
<line x1="947.5" y1="1331.25" x2="1090" y2="1331.25" stroke-width="1.2"/>
<path d="M947.5 1331.25 L963.5 1328.95 L963.5 1333.55 Z" fill="#000" stroke-width="0.8"/>
<path d="M1090 1331.25 L1074 1333.55 L1074 1328.95 Z" fill="#000" stroke-width="0.8"/>
<text x="1001.25" y="1322.5" font-size="25.72" textLength="36.25" lengthAdjust="spacingAndGlyphs" font-weight="normal" stroke="#000" stroke-width="0.75" fill="#000">Ø28</text>
<text x="788.75" y="1131.25" font-size="25.72" textLength="87.5" lengthAdjust="spacingAndGlyphs" font-weight="normal" stroke="#000" stroke-width="0.75" fill="#000">M10 x 1.5</text>
<text x="795" y="1161.25" font-size="25.72" textLength="81.25" lengthAdjust="spacingAndGlyphs" font-weight="normal" stroke="#000" stroke-width="0.75" fill="#000">15 DEEP</text>
<line x1="882.5" y1="1151.25" x2="910" y2="1151.25" stroke-width="1.2"/>
<line x1="910" y1="1151.25" x2="995" y2="1192.5" stroke-width="1.2"/>
<path d="M995 1192.5 L979.6 1187.58 L981.61 1183.45 Z" fill="#000" stroke-width="0.8"/>
<text x="948.75" y="1382.5" font-size="27.43" textLength="162.5" lengthAdjust="spacingAndGlyphs" font-weight="normal" stroke="#000" stroke-width="0.75" fill="#000">SHAFT DETAIL</text>
<line x1="947.5" y1="1387.5" x2="1113.75" y2="1387.5" stroke-width="1.3"/>
</g>
<g id="front">
<line x1="204" y1="693" x2="826" y2="693" stroke-width="1.2" stroke-dasharray="90 10 14 10"/>
<line x1="491.4" y1="259" x2="491.4" y2="956" stroke-width="1.2" stroke-dasharray="70 10 14 10"/>
<circle cx="491.4" cy="693" r="99.4" stroke-width="3.3"/>
<circle cx="491.4" cy="693" r="88.1" stroke-width="3.3"/>
<circle cx="491.4" cy="693" r="69.4" stroke-width="3.3"/>
<circle cx="491.4" cy="693" r="56.9" stroke-width="3.3"/>
<circle cx="491.4" cy="693" r="35.6" stroke-width="1.9"/>
<rect x="480.5" y="649" width="22.5" height="18.5" fill="#fff" stroke="none"/>
<rect x="480.5" y="649" width="22.5" height="18.5" stroke-width="3.3"/>
<circle cx="491.4" cy="693" r="10.8" stroke-width="3.3"/>
<circle cx="491.4" cy="691.5" r="215" stroke-width="2.86"/>
<circle cx="491.4" cy="691.5" r="210" stroke-width="3.08"/>
<path d="M466.6 447 L516.2 447 L518.5 487 L464.3 487 Z M464.5 898 L518.3 898 L515.8 939 L467 939 Z M244 667.2 L287 667.2 L287 717.3 L244 717.3 Z M695.8 667.2 L738.8 667.2 L738.8 717.3 L695.8 717.3 Z" fill="#fff" stroke="none"/>
<circle cx="491.4" cy="691.5" r="202.8" stroke-width="1.6"/>
<circle cx="491.4" cy="691.5" r="199.5" stroke-width="3.3"/>
<g id="fhalf">
<path d="M491.4 280 L316 280 L270.75 296 L270.75 311" stroke-width="3.3"/>
<line x1="270.75" y1="297.5" x2="491.4" y2="297.5" stroke-width="3.52"/>
<line x1="267" y1="311.2" x2="491.4" y2="311.2" stroke-width="3.3"/>
<line x1="267" y1="315.2" x2="491.4" y2="315.2" stroke-width="3.3"/>
<path d="M268 311.5 L267 314 L267 341.2" stroke-width="3.3"/>
<line x1="267" y1="341.2" x2="491.4" y2="341.2" stroke-width="3.3"/>
<path d="M272 341.2 L272 406 L491.4 406" stroke-width="3.3"/>
<path d="M272 406 L308.75 438.75 L323.6 439 C333 440 338 446.8 347.7 446.8 L364.5 446.8 C370 446.8 373 441.4 377.7 441.4 L380.1 441.4 L380.1 446.2 L491.4 446.2" stroke-width="3.3"/>
<line x1="387.3" y1="446.8" x2="387.3" y2="500" stroke-width="2"/>
<path d="M466.6 447 L464.3 487 L491.4 487" stroke-width="3.3"/>
<path d="M396 498.82 L397.6 464.9 Q400 460.4 402.4 464.9 L404 495.07" stroke-width="2.86"/>
<path d="M424.8 487.08 L426.4 458.9 Q428.8 454.4 431.2 458.9 L432.8 484.64" stroke-width="2.86"/>
<path d="M453 479.96 L454.6 454.6 Q457 450.1 459.4 454.6 L461 478.66" stroke-width="2.86"/>
<path d="M338 536 L341 484 Q343 480 345.5 484 L349 530" stroke-width="2.86"/>
<path d="M366 513 L369.3 473 Q371.1 469 373.4 473 L376.5 507" stroke-width="2.86"/>
<line x1="347" y1="490" x2="369.3" y2="478" stroke-width="2.4"/>
<line x1="375" y1="473.9" x2="386.5" y2="467.9" stroke-width="2.4"/>
<path d="M328.4 505.8 L338.5 497.5" stroke-width="2.4"/>
<path d="M304.4 568.5 L304.4 517.8 L317.6 517.8 L317.6 505.8 L328.4 505.8" stroke-width="3.3"/>
<path d="M302.59 532.2 A248 248 0 0 0 302.34 853.5" stroke-width="3.3"/>
<path d="M335.92 543 L310 543 Q306 545.6 310 548.2 L331.12 548.2" stroke-width="2.86"/>
<path d="M313.24 571.15 L271.25 571.15 Q267.25 573.75 271.25 576.35 L309.84 576.35" stroke-width="2.86"/>
<path d="M297.48 598.65 L268.75 598.65 Q264.75 601.25 268.75 603.85 L295.08 603.85" stroke-width="2.86"/>
<path d="M286.57 626.15 L257.5 626.15 Q253.5 628.75 257.5 631.35 L284.99 631.35" stroke-width="2.86"/>
<path d="M279.33 656.15 L252.1 656.15 Q248.1 658.75 252.1 661.35 L278.52 661.35" stroke-width="2.86"/>
<path d="M278.63 722.4 L252.1 722.4 Q248.1 725 252.1 727.6 L279.45 727.6" stroke-width="2.86"/>
<path d="M285.38 753 L257.5 753 Q253.5 755.6 257.5 758.2 L287.01 758.2" stroke-width="2.86"/>
<path d="M295.98 781.15 L267.5 781.15 Q263.5 783.75 267.5 786.35 L298.45 786.35" stroke-width="2.86"/>
<path d="M312.77 811.15 L271.25 811.15 Q267.25 813.75 271.25 816.35 L316.36 816.35" stroke-width="2.86"/>
<line x1="245" y1="667.2" x2="287.34" y2="667.2" stroke-width="3.3"/>
<line x1="245" y1="717.3" x2="287.34" y2="717.3" stroke-width="3.3"/>
<path d="M251.9 693 L259 680.8 L273.2 680.8 L280.3 693 L273.2 705.2 L259 705.2 Z" stroke-width="1.1"/>
<rect x="241.2" y="680" width="5.2" height="26" fill="#000" stroke="none"/>
<rect x="238" y="682.4" width="3.2" height="21" stroke-width="1.1"/>
<path d="M238 680.5 L231 680.5 Q227.9 684 227.9 693 Q227.9 702 231 705.7 L238 705.7" stroke-width="1.1"/>
<line x1="230" y1="693" x2="238" y2="693" stroke-width="1"/>
<path d="M241.8 911 L305.2 872.6 L304.6 872.6 L304.6 817.5" stroke-width="3.3"/>
<path d="M304.6 867.3 L317.8 867.3 L317.8 879.2 L368.1 879.2 L368.1 912.2" stroke-width="3.3"/>
<rect x="241.8" y="912.2" width="127.5" height="35.3" stroke-width="3.3"/>
<path d="M376.5 874 L374.5 913 Q371 916 368.1 912.2 M374.7 911 L397.5 921.8 C410 927 418 929.5 428.6 931.3 C445 934.5 455 936.8 467 938.5 L491.4 940.3" stroke-width="3.3"/>
<path d="M464.5 898.4 L467 938.5" stroke-width="3.3"/>
<line x1="464.5" y1="898.4" x2="491.4" y2="898.4" stroke-width="3.3"/>
<path d="M395.4 886.06 L397.1 920 Q399.9 925 402.7 920 L404.4 886.06" stroke-width="3.08"/>
<path d="M424.1 897.12 L425.8 928.3 Q428.6 933.3 431.4 928.3 L433.1 897.12" stroke-width="3.08"/>
<path d="M452.9 903.79 L454.6 930.1 Q457.4 935.1 460.2 930.1 L461.9 903.79" stroke-width="3.08"/>
</g>
<use href="#fhalf" transform="translate(982.8 0) scale(-1 1)"/>
<line x1="272.3" y1="913.5" x2="272.3" y2="946" stroke-width="1.1" stroke-dasharray="12 5"/>
<line x1="303.5" y1="913.5" x2="303.5" y2="946" stroke-width="1.1" stroke-dasharray="12 5"/>
<line x1="675" y1="913.5" x2="675" y2="946" stroke-width="1.1" stroke-dasharray="12 5"/>
<line x1="716.25" y1="913.5" x2="716.25" y2="946" stroke-width="1.1" stroke-dasharray="12 5"/>
<path d="M491.4 453.5 L503.09 460.25 L503.09 473.75 L491.4 480.5 L479.71 473.75 L479.71 460.25 Z" stroke-width="1.1"/>
<path d="M491.4 906 L503.09 912.75 L503.09 926.25 L491.4 933 L479.71 926.25 L479.71 912.75 Z" stroke-width="1.1"/>
</g>
<g id="side">
<path d="M1223.75 310 L1223.75 280 L1596.25 280 L1596.25 310" stroke-width="3.3"/>
<line x1="1223.75" y1="297.5" x2="1596.25" y2="297.5" stroke-width="3.63"/>
<line x1="1223.75" y1="310" x2="1596.25" y2="310" stroke-width="2.2"/>
<path d="M1223.75 310 L1218.75 315 L1218.75 341.25 L1601.25 341.25 L1601.25 315 L1596.25 310" stroke-width="3.3"/>
<line x1="1218.75" y1="315" x2="1601.25" y2="315" stroke-width="3.3"/>
<path d="M1223.75 341.25 L1223.75 438.9 L1596.4 438.9 L1596.4 341.25" stroke-width="3.3"/>
<line x1="1223.75" y1="407.5" x2="1596.25" y2="407.5" stroke-width="2"/>
<path d="M1597.5 357.5 L1618 357.5 L1621.25 362 L1621.25 423 L1618 427.5 L1597.5 427.5" stroke-width="1.3"/>
<line x1="1597.5" y1="375" x2="1621.25" y2="375" stroke-width="1.3"/>
<line x1="1597.5" y1="408.75" x2="1621.25" y2="408.75" stroke-width="1.3"/>
<path d="M1621.25 362.5 L1630 362.5 Q1642.5 364 1642.5 380 L1642.5 405 Q1642.5 421.25 1630 421.25 L1621.25 421.25" stroke-width="1.3"/>
<line x1="1615" y1="375" x2="1621.25" y2="362.5" stroke-width="1.1"/>
<line x1="1615" y1="408.75" x2="1621.25" y2="421.25" stroke-width="1.1"/>
<path d="M1200 446.8 L1221.2 446.8 L1221.2 476.2 L1232.7 476.2 L1232.7 446.8 L1455 446.8" stroke-width="3.08"/>
<line x1="1445.5" y1="446.8" x2="1445.5" y2="471.8" stroke-width="3.3"/>
<path d="M1447 449.6 L1687.5 449.6 L1722.8 453.5 L1722.8 455.5 L1447 455.5 Z" stroke-width="0.8" fill="#000"/>
<path d="M1447 462.9 L1681 462.9 L1722.8 466.7" stroke-width="2.86"/>
<path d="M1307.8 473 L1676 473 L1722.8 480.6" stroke-width="3.08"/>
<path d="M1250.3 540 L1250.3 488.2 Q1250.5 480 1257.7 479.4 L1307.8 473" stroke-width="3.3"/>
<path d="M1250.3 520 Q1250.8 506 1258.8 505.6 L1722.8 505.6" stroke-width="3.3"/>
<line x1="1227.3" y1="475.8" x2="1227.3" y2="912" stroke-width="3.3"/>
<path d="M1222.7 475.8 L1222.7 446.3 L1191.4 446.3 L1191.4 484.9 L1173.7 486.2 L1173.7 491.4 L1158.7 491.4 L1148.2 586.9 L1148.2 790.8 L1159.6 892.4 L1173.3 892.4 L1173.3 897.6 L1191 899.6 L1192.3 899.6 L1192.3 938.8 L1222.3 938.8 L1222.3 908.7" stroke-width="3.3"/>
<path d="M1222.7 475.8 L1233.2 475.8" stroke-width="3.3"/>
<line x1="1160" y1="491.4" x2="1160" y2="892.4" stroke-width="1.2"/>
<line x1="1173.7" y1="491.4" x2="1173.7" y2="892.4" stroke-width="1.2"/>
<line x1="1192" y1="484.9" x2="1192" y2="899.6" stroke-width="1.2"/>
<rect x="1222.3" y="908.7" width="26.8" height="28.1" stroke-width="3.3"/>
<line x1="1228.9" y1="908.7" x2="1228.9" y2="936.8" stroke-width="1.2"/>
<path d="M1184.2 453.5 L1175 453.5 Q1173 455.5 1173 458.5 L1173 476 Q1173 479 1175 481 L1184.2 481 Z" stroke-width="1.2"/>
<line x1="1173" y1="462.57" x2="1184.2" y2="462.57" stroke-width="1.1"/>
<line x1="1173" y1="471.65" x2="1184.2" y2="471.65" stroke-width="1.1"/>
<rect x="1184.2" y="451.5" width="3.9" height="31.5" stroke-width="1.1"/>
<path d="M1184.2 679 L1175 679 Q1173 681 1173 684 L1173 702.1 Q1173 705.1 1175 707.1 L1184.2 707.1 Z" stroke-width="1.2"/>
<line x1="1173" y1="688.27" x2="1184.2" y2="688.27" stroke-width="1.1"/>
<line x1="1173" y1="697.55" x2="1184.2" y2="697.55" stroke-width="1.1"/>
<rect x="1184.2" y="677" width="3.9" height="32.1" stroke-width="1.1"/>
<path d="M1184.2 903.5 L1175 903.5 Q1173 905.5 1173 908.5 L1173 927.2 Q1173 930.2 1175 932.2 L1184.2 932.2 Z" stroke-width="1.2"/>
<line x1="1173" y1="912.97" x2="1184.2" y2="912.97" stroke-width="1.1"/>
<line x1="1173" y1="922.44" x2="1184.2" y2="922.44" stroke-width="1.1"/>
<rect x="1184.2" y="901.5" width="3.9" height="32.7" stroke-width="1.1"/>
<rect x="988.1" y="656.1" width="148.4" height="72.6" rx="2.5" stroke-width="3"/>
<path d="M997.9 656.1 L997.9 649 L1126 649 L1126 656.1" stroke-width="3.3"/>
<line x1="1137.8" y1="658.5" x2="1137.8" y2="726.5" stroke-width="1.2"/>
<rect x="1140.4" y="653.5" width="6.5" height="77.8" stroke-width="1.6"/>
<line x1="1140.4" y1="653.5" x2="1140.4" y2="731.3" stroke-width="3.3"/>
<rect x="1192.2" y="665.5" width="30.2" height="54.5" stroke-width="2.4"/>
<rect x="1191" y="664.4" width="32.6" height="4.6" fill="#000" stroke="none"/>
<rect x="1191" y="715.8" width="32.6" height="5.2" fill="#000" stroke="none"/>
<line x1="1250.3" y1="520" x2="1250.3" y2="667.9" stroke-width="3.3"/>
<line x1="1250.3" y1="716.9" x2="1250.3" y2="936.8" stroke-width="3.3"/>
<line x1="1250.3" y1="540" x2="1355.2" y2="540" stroke-width="3.3"/>
<line x1="1418.9" y1="540" x2="1518.8" y2="540" stroke-width="3.3"/>
<line x1="1582" y1="540" x2="1722.8" y2="540" stroke-width="3.3"/>
<line x1="1250.3" y1="547.5" x2="1355.2" y2="547.5" stroke-width="3.3"/>
<line x1="1418.9" y1="547.5" x2="1518.8" y2="547.5" stroke-width="3.3"/>
<line x1="1582" y1="547.5" x2="1722.8" y2="547.5" stroke-width="3.3"/>
<line x1="1334.7" y1="540" x2="1334.7" y2="547.5" stroke-width="3.3"/>
<line x1="1650" y1="540" x2="1650" y2="547.5" stroke-width="3.3"/>
<line x1="1250.3" y1="567.5" x2="1722.8" y2="567.5" stroke-width="3.3"/>
<line x1="1250.3" y1="575" x2="1722.8" y2="575" stroke-width="3.3"/>
<line x1="1334.7" y1="567.5" x2="1334.7" y2="575" stroke-width="3.3"/>
<line x1="1650" y1="567.5" x2="1650" y2="575" stroke-width="3.3"/>
<line x1="1250.3" y1="596.25" x2="1722.8" y2="596.25" stroke-width="3.3"/>
<line x1="1250.3" y1="603" x2="1722.8" y2="603" stroke-width="3.3"/>
<line x1="1334.7" y1="596.25" x2="1334.7" y2="603" stroke-width="3.3"/>
<line x1="1650" y1="596.25" x2="1650" y2="603" stroke-width="3.3"/>
<line x1="1250.3" y1="625.5" x2="1722.8" y2="625.5" stroke-width="3.3"/>
<line x1="1250.3" y1="632.5" x2="1722.8" y2="632.5" stroke-width="3.3"/>
<line x1="1334.7" y1="625.5" x2="1334.7" y2="632.5" stroke-width="3.3"/>
<line x1="1650" y1="625.5" x2="1650" y2="632.5" stroke-width="3.3"/>
<line x1="1250.3" y1="653.5" x2="1722.8" y2="653.5" stroke-width="3.3"/>
<line x1="1250.3" y1="661" x2="1722.8" y2="661" stroke-width="3.3"/>
<line x1="1334.7" y1="653.5" x2="1334.7" y2="661" stroke-width="3.3"/>
<line x1="1650" y1="653.5" x2="1650" y2="661" stroke-width="3.3"/>
<line x1="1250.3" y1="722.5" x2="1722.8" y2="722.5" stroke-width="3.3"/>
<line x1="1250.3" y1="730" x2="1722.8" y2="730" stroke-width="3.3"/>
<line x1="1334.7" y1="722.5" x2="1334.7" y2="730" stroke-width="3.3"/>
<line x1="1650" y1="722.5" x2="1650" y2="730" stroke-width="3.3"/>
<line x1="1250.3" y1="750.7" x2="1722.8" y2="750.7" stroke-width="3.3"/>
<line x1="1250.3" y1="757.6" x2="1722.8" y2="757.6" stroke-width="3.3"/>
<line x1="1334.7" y1="750.7" x2="1334.7" y2="757.6" stroke-width="3.3"/>
<line x1="1650" y1="750.7" x2="1650" y2="757.6" stroke-width="3.3"/>
<line x1="1250.3" y1="780" x2="1722.8" y2="780" stroke-width="3.3"/>
<line x1="1250.3" y1="787.5" x2="1722.8" y2="787.5" stroke-width="3.3"/>
<line x1="1334.7" y1="780" x2="1334.7" y2="787.5" stroke-width="3.3"/>
<line x1="1650" y1="780" x2="1650" y2="787.5" stroke-width="3.3"/>
<line x1="1250.3" y1="808.5" x2="1722.8" y2="808.5" stroke-width="3.3"/>
<line x1="1250.3" y1="815.2" x2="1722.8" y2="815.2" stroke-width="3.3"/>
<line x1="1334.7" y1="808.5" x2="1334.7" y2="815.2" stroke-width="3.3"/>
<line x1="1650" y1="808.5" x2="1650" y2="815.2" stroke-width="3.3"/>
<line x1="1250.3" y1="836.2" x2="1355.2" y2="836.2" stroke-width="3.3"/>
<line x1="1418.9" y1="836.2" x2="1518.8" y2="836.2" stroke-width="3.3"/>
<line x1="1582" y1="836.2" x2="1722.8" y2="836.2" stroke-width="3.3"/>
<line x1="1250.3" y1="845.3" x2="1355.2" y2="845.3" stroke-width="3.3"/>
<line x1="1418.9" y1="845.3" x2="1518.8" y2="845.3" stroke-width="3.3"/>
<line x1="1582" y1="845.3" x2="1722.8" y2="845.3" stroke-width="3.3"/>
<line x1="1334.7" y1="836.2" x2="1334.7" y2="845.3" stroke-width="3.3"/>
<line x1="1650" y1="836.2" x2="1650" y2="845.3" stroke-width="3.3"/>
<line x1="1278.5" y1="547.5" x2="1278.5" y2="567.5" stroke-width="3.3"/>
<line x1="1706.5" y1="547.5" x2="1706.5" y2="567.5" stroke-width="3.3"/>
<line x1="1278.5" y1="575" x2="1278.5" y2="596.25" stroke-width="3.3"/>
<line x1="1706.5" y1="575" x2="1706.5" y2="596.25" stroke-width="3.3"/>
<line x1="1278.5" y1="603" x2="1278.5" y2="625.5" stroke-width="3.3"/>
<line x1="1706.5" y1="603" x2="1706.5" y2="625.5" stroke-width="3.3"/>
<line x1="1278.5" y1="632.5" x2="1278.5" y2="653.5" stroke-width="3.3"/>
<line x1="1706.5" y1="632.5" x2="1706.5" y2="653.5" stroke-width="3.3"/>
<line x1="1278.5" y1="730" x2="1278.5" y2="750.7" stroke-width="3.3"/>
<line x1="1706.5" y1="730" x2="1706.5" y2="750.7" stroke-width="3.3"/>
<line x1="1278.5" y1="757.6" x2="1278.5" y2="780" stroke-width="3.3"/>
<line x1="1706.5" y1="757.6" x2="1706.5" y2="780" stroke-width="3.3"/>
<line x1="1278.5" y1="787.5" x2="1278.5" y2="808.5" stroke-width="3.3"/>
<line x1="1706.5" y1="787.5" x2="1706.5" y2="808.5" stroke-width="3.3"/>
<line x1="1278.5" y1="815.2" x2="1278.5" y2="836.2" stroke-width="3.3"/>
<line x1="1706.5" y1="815.2" x2="1706.5" y2="836.2" stroke-width="3.3"/>
<line x1="1317.5" y1="547.5" x2="1317.5" y2="567.5" stroke-width="3.3"/>
<line x1="1317.5" y1="815.2" x2="1317.5" y2="836.2" stroke-width="3.3"/>
<line x1="1620" y1="547.5" x2="1620" y2="567.5" stroke-width="3.3"/>
<line x1="1620" y1="815.2" x2="1620" y2="836.2" stroke-width="3.3"/>
<path d="M1355.2 505.6 L1355.2 567.5" stroke-width="3.52"/>
<path d="M1418.9 505.6 L1418.9 567.5" stroke-width="3.52"/>
<line x1="1355.2" y1="518.3" x2="1418.9" y2="518.3" stroke-width="3.3"/>
<circle cx="1387.05" cy="542.5" r="8.5" stroke-width="3.3"/>
<line x1="1387.05" y1="512" x2="1387.05" y2="565" stroke-width="1.1"/>
<line x1="1345.2" y1="542.5" x2="1428.9" y2="542.5" stroke-width="1.1"/>
<path d="M1355.2 817.9 L1355.2 866.9" stroke-width="3.52"/>
<path d="M1418.9 817.9 L1418.9 866.9" stroke-width="3.52"/>
<circle cx="1387.05" cy="840.8" r="8.5" stroke-width="3.3"/>
<line x1="1387.05" y1="815" x2="1387.05" y2="866" stroke-width="1.1"/>
<line x1="1345.2" y1="840.8" x2="1428.9" y2="840.8" stroke-width="1.1"/>
<path d="M1518.8 505.6 L1518.8 567.5" stroke-width="3.52"/>
<path d="M1582 505.6 L1582 567.5" stroke-width="3.52"/>
<line x1="1518.8" y1="518.3" x2="1582" y2="518.3" stroke-width="3.3"/>
<circle cx="1550.4" cy="542.5" r="8.5" stroke-width="3.3"/>
<line x1="1550.4" y1="512" x2="1550.4" y2="565" stroke-width="1.1"/>
<line x1="1508.8" y1="542.5" x2="1592" y2="542.5" stroke-width="1.1"/>
<path d="M1518.8 817.9 L1518.8 866.9" stroke-width="3.52"/>
<path d="M1582 817.9 L1582 866.9" stroke-width="3.52"/>
<circle cx="1550.4" cy="840.8" r="8.5" stroke-width="3.3"/>
<line x1="1550.4" y1="815" x2="1550.4" y2="866" stroke-width="1.1"/>
<line x1="1508.8" y1="840.8" x2="1592" y2="840.8" stroke-width="1.1"/>
<line x1="1344.5" y1="866.9" x2="1582.4" y2="866.9" stroke-width="3.3"/>
<line x1="1344.5" y1="870.5" x2="1594.2" y2="870.5" stroke-width="2.4"/>
<rect x="1252" y="663.2" width="469" height="57.6" fill="#fff" stroke="none"/>
<rect x="1297.5" y="682.5" width="397.5" height="20" stroke-width="3.52"/>
<line x1="1303" y1="686.5" x2="1689" y2="686.5" stroke-width="1.2"/>
<line x1="1303" y1="698.5" x2="1689" y2="698.5" stroke-width="1.2"/>
<line x1="1310" y1="692.5" x2="1680" y2="692.5" stroke-width="1.1" stroke-dasharray="24 6 6 6"/>
<path d="M1302 684.5 L1309 692.5 L1302 700.5" stroke-width="2"/>
<path d="M1690 684.5 L1683 692.5 L1690 700.5" stroke-width="2"/>
<rect x="1227.8" y="668.8" width="56.8" height="48" fill="none" stroke="#000" stroke-width="2.6"/>
<rect x="1226.5" y="667.5" width="59.3" height="4.6" fill="#000" stroke="none"/>
<rect x="1226.5" y="713.4" width="59.3" height="4.6" fill="#000" stroke="none"/>
<line x1="1275.5" y1="672" x2="1275.5" y2="713.4" stroke-width="2.2"/>
<path d="M1276 673 Q1280 672.5 1283 670.5 M1276 712.5 Q1280 713 1283 715" stroke-width="1.4"/>
<rect x="1224.5" y="686.2" width="4.4" height="12.6" fill="#fff" stroke="#000" stroke-width="1.6"/>
<rect x="1699.2" y="667.2" width="23.3" height="50" stroke-width="3.3"/>
<line x1="1705" y1="667.2" x2="1705" y2="717" stroke-width="1.4"/>
<line x1="1709" y1="670" x2="1709" y2="714" stroke-width="1.2"/>
<rect x="1385" y="647" width="169.3" height="90.5" rx="5" fill="#fff" stroke-width="4"/>
<text x="1399.6" y="668.6" font-size="18.79" font-weight="bold" textLength="37.2" lengthAdjust="spacingAndGlyphs" fill="#000" stroke="#000" stroke-width="0.4">CMG</text>
<text x="1399.6" y="674.1" font-size="6.86" font-weight="bold" textLength="36.4" lengthAdjust="spacingAndGlyphs" fill="#000" stroke="#000" stroke-width="0.4">AUSTRALIA</text>
<text x="1452.5" y="661.6" font-size="7.54" font-weight="bold" textLength="54.5" lengthAdjust="spacingAndGlyphs" fill="#000" stroke="#000" stroke-width="0.4">SINGLE - PHASE</text>
<text x="1446.6" y="670.2" font-size="7.54" font-weight="bold" textLength="66.2" lengthAdjust="spacingAndGlyphs" fill="#000" stroke="#000" stroke-width="0.4">INDUCTION MOTOR</text>
<text x="1523.4" y="668.2" font-size="19.89" font-weight="bold" textLength="17.3" lengthAdjust="spacingAndGlyphs" fill="#000" stroke="#000" stroke-width="0.4">CE</text>
<rect x="1439.6" y="678.4" width="74.8" height="7.1" stroke-width="2"/>
<rect x="1416" y="687.4" width="45.9" height="6.7" stroke-width="2"/>
<rect x="1466.2" y="687.4" width="9.8" height="6.7" stroke-width="2"/>
<rect x="1496.8" y="687.4" width="37.2" height="6.7" stroke-width="2"/>
<rect x="1416" y="697.2" width="32.2" height="6.3" stroke-width="2"/>
<rect x="1466.2" y="697.2" width="40.8" height="6.3" stroke-width="2"/>
<rect x="1518.7" y="697.2" width="15.3" height="6.3" stroke-width="2"/>
<rect x="1416" y="706.2" width="50.2" height="6.3" stroke-width="2"/>
<rect x="1491.3" y="706.2" width="49.7" height="6.3" stroke-width="2"/>
<rect x="1416" y="715.2" width="9.5" height="6.3" stroke-width="2"/>
<rect x="1461.1" y="715.2" width="79.9" height="6.3" stroke-width="2"/>
<rect x="1416" y="724.2" width="9.5" height="7.5" stroke-width="2"/>
<rect x="1461.1" y="724.2" width="79.9" height="7.5" stroke-width="2"/>
<text x="1425" y="684.7" font-size="5.76" font-weight="bold" textLength="11" lengthAdjust="spacingAndGlyphs" fill="#000" stroke="#000" stroke-width="0.4">TYPE</text>
<text x="1406" y="693.5" font-size="5.76" font-weight="bold" textLength="7" lengthAdjust="spacingAndGlyphs" fill="#000" stroke="#000" stroke-width="0.4">kW</text>
<text x="1478" y="693.5" font-size="5.76" font-weight="bold" textLength="15.6" lengthAdjust="spacingAndGlyphs" fill="#000" stroke="#000" stroke-width="0.4">50Hz</text>
<text x="1398.8" y="703" font-size="5.76" font-weight="bold" textLength="13.2" lengthAdjust="spacingAndGlyphs" fill="#000" stroke="#000" stroke-width="0.4">AMPS</text>
<text x="1452.5" y="703" font-size="5.76" font-weight="bold" textLength="10.5" lengthAdjust="spacingAndGlyphs" fill="#000" stroke="#000" stroke-width="0.4">RPM</text>
<text x="1510" y="703" font-size="5.76" font-weight="bold" textLength="6" lengthAdjust="spacingAndGlyphs" fill="#000" stroke="#000" stroke-width="0.4">Hz</text>
<text x="1389.4" y="712" font-size="5.76" font-weight="bold" textLength="24.3" lengthAdjust="spacingAndGlyphs" fill="#000" stroke="#000" stroke-width="0.4">START CAP</text>
<text x="1469.3" y="712" font-size="5.76" font-weight="bold" textLength="19.7" lengthAdjust="spacingAndGlyphs" fill="#000" stroke="#000" stroke-width="0.4">RUN CAP</text>
<text x="1397.2" y="721" font-size="5.76" font-weight="bold" textLength="15.8" lengthAdjust="spacingAndGlyphs" fill="#000" stroke="#000" stroke-width="0.4">INSUL.</text>
<text x="1430.2" y="721" font-size="5.76" font-weight="bold" textLength="28.2" lengthAdjust="spacingAndGlyphs" fill="#000" stroke="#000" stroke-width="0.4">PROD.CODE</text>
<text x="1407.8" y="730.5" font-size="5.76" font-weight="bold" textLength="5.2" lengthAdjust="spacingAndGlyphs" fill="#000" stroke="#000" stroke-width="0.4">IP</text>
<text x="1434" y="730.5" font-size="5.76" font-weight="bold" textLength="24.4" lengthAdjust="spacingAndGlyphs" fill="#000" stroke="#000" stroke-width="0.4">SERIAL No.</text>
<circle cx="1395.3" cy="692.1" r="5.6" stroke-width="3.3"/>
<line x1="1395.3" y1="684" x2="1395.3" y2="700" stroke-width="1.2"/>
<line x1="1387" y1="692.1" x2="1403" y2="692.1" stroke-width="1.2"/>
<circle cx="1543.4" cy="692.1" r="5.6" stroke-width="3.3"/>
<line x1="1543.4" y1="684" x2="1543.4" y2="700" stroke-width="1.2"/>
<line x1="1535" y1="692.1" x2="1551" y2="692.1" stroke-width="1.2"/>
<path d="M1317 847.3 L1344.5 870.2 L1344.5 906.1 Q1344.5 910.7 1338.6 910.7" stroke-width="3.3"/>
<path d="M1250.5 871 Q1251.5 880 1258 880 L1594.2 880" stroke-width="3.3"/>
<path d="M1344.5 880 L1283.7 907.4 Q1265 906 1251 897.6" stroke-width="3.3"/>
<path d="M1621.7 847.3 L1594.2 870.2 L1594.2 906.1 Q1594.2 910.7 1600 910.7" stroke-width="3.3"/>
<path d="M1594.2 880 L1722.2 880" stroke-width="3.3"/>
<path d="M1594.2 880 L1660.8 910.7" stroke-width="3.3"/>
<path d="M1675.2 910.7 Q1700 905 1722.2 904.1" stroke-width="3.3"/>
<path d="M1255.6 947.9 L1255.6 917 Q1255.6 911.3 1262 911.3 L1697.4 911.3 Q1704 911.3 1704 918.5 L1704 947.9 L1606 947.9 L1606 940 Q1606 934.8 1600.7 934.8 L1356 934.8 Q1350 934.8 1350 940 L1350 947.9 L1255.6 947.9" stroke-width="3.3"/>
<line x1="1705" y1="923" x2="1722" y2="923" stroke-width="2"/>
<line x1="1705" y1="930" x2="1722" y2="930" stroke-width="2"/>
<line x1="1705" y1="936" x2="1722" y2="936" stroke-width="2"/>
<path d="M1724.5 947 L1724.5 437.4 L1822.8 437.4 L1830.1 442.9 L2000.1 442.9 L2073.6 479.5 L2076.4 484 L2076.4 900 L2073.6 904.5 L2000.1 941.8 L1830.1 941.8 L1822.8 947 L1724.5 947" stroke-width="3.52"/>
<line x1="1821.9" y1="437.4" x2="1821.9" y2="947" stroke-width="1.2"/>
<line x1="1830.1" y1="442.9" x2="1830.1" y2="941.8" stroke-width="1.2"/>
<line x1="1998.6" y1="442.9" x2="1998.6" y2="941.8" stroke-width="1.2"/>
<path d="M1761 436.5 L1761 429 Q1762 422.7 1773 422.7 Q1785.5 422.7 1785.8 429 L1785.8 436.5 Z" stroke-width="1.2"/>
<line x1="1761" y1="432" x2="1785.8" y2="432" stroke-width="1.1"/>
<circle cx="1773.4" cy="692.8" r="15.6" stroke-width="1.1"/>
<circle cx="1773.4" cy="692.8" r="8.2" stroke-width="1.6"/>
<line x1="1766" y1="692.8" x2="1781" y2="692.8" stroke-width="2"/>
<line x1="1773.4" y1="685.5" x2="1773.4" y2="700" stroke-width="2"/>
<line x1="978" y1="693" x2="1383" y2="693" stroke-width="1.2" stroke-dasharray="80 10 14 10"/>
<line x1="1556" y1="693" x2="2095" y2="693" stroke-width="1.2" stroke-dasharray="80 10 14 10"/>
</g>
</g></svg></body></html>
